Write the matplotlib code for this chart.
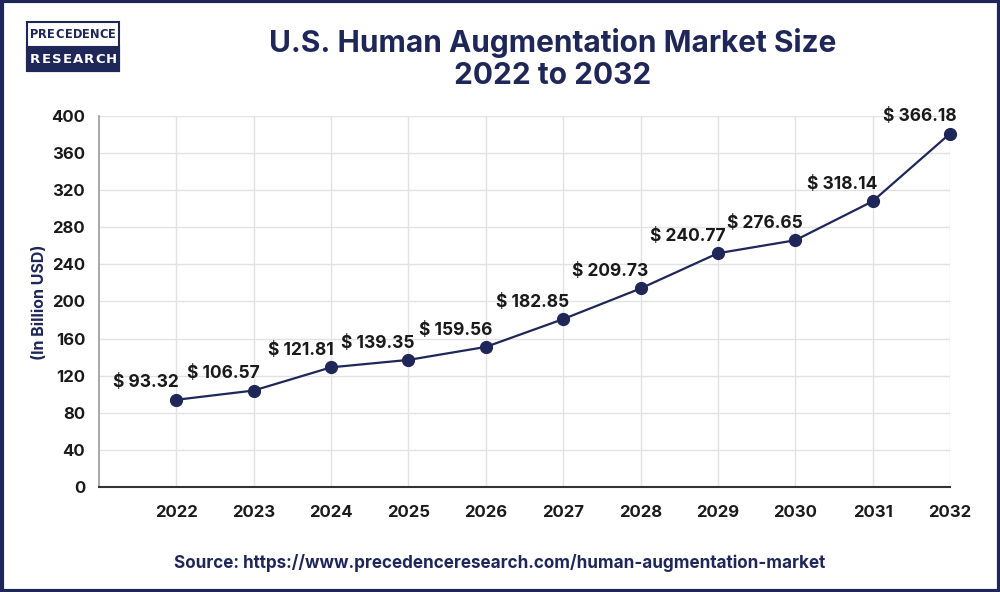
import matplotlib
matplotlib.use("Agg")
import matplotlib.pyplot as plt
from matplotlib.patches import Rectangle

years = [2022, 2023, 2024, 2025, 2026, 2027, 2028, 2029, 2030, 2031, 2032]
# point heights as drawn in the reference
point_values = [94, 104, 129, 137, 151, 181, 214, 252, 266, 308, 381]
label_texts = ["$ 93.32", "$ 106.57", "$ 121.81", "$ 139.35", "$ 159.56", "$ 182.85",
               "$ 209.73", "$ 240.77", "$ 276.65", "$ 318.14", "$ 366.18"]
y_ticks = [0, 40, 80, 120, 160, 200, 240, 280, 320, 360, 400]

NAVY = "#1f2758"
FONT = ["Inter", "DejaVu Sans"]
COND = ["DejaVu Sans Condensed", "DejaVu Sans"]

fig = plt.figure(figsize=(10, 5.92), dpi=100)
fig.patch.set_facecolor("white")

# outer border
fig.add_artist(Rectangle((0.0015, 0.0025), 0.997, 0.995, transform=fig.transFigure,
                         fill=False, edgecolor=NAVY, linewidth=3))

ax = fig.add_axes([0.099, 0.1774, 0.851, 0.6267])
ax.plot(years, point_values, color=NAVY, linewidth=1.6, marker="o", markersize=8.5,
        markerfacecolor=NAVY, markeredgecolor=NAVY, zorder=3, clip_on=False)
for x, y, t in zip(years, point_values, label_texts):
    ax.annotate(t, (x, y), xytext=(-22, 6), textcoords="offset points", ha="center",
                va="bottom", fontsize=12.5, fontweight="bold", color="#1a1a1a",
                family=FONT)

ax.set_xlim(2021, 2032)
ax.set_ylim(0, 400)
ax.set_yticks(y_ticks)
ax.set_xticks(years)
ax.grid(True, color="#e2e2e2", linewidth=1.0)
ax.set_axisbelow(True)
for s in ["top", "right"]:
    ax.spines[s].set_visible(False)
ax.spines["left"].set_color("#9a9a9a")
ax.spines["left"].set_linewidth(1.2)
ax.spines["bottom"].set_color("#333333")
ax.spines["bottom"].set_linewidth(1.5)
ax.tick_params(axis="both", length=0, labelsize=12, colors="#1a1a1a")
ax.tick_params(axis="x", pad=13)
ax.tick_params(axis="y", pad=10)
for lab in ax.get_xticklabels() + ax.get_yticklabels():
    lab.set_fontweight("bold")
    lab.set_family(FONT)

fig.text(0.040, 0.49, "(In Billion USD)", rotation=90, ha="center", va="center",
         fontsize=11.5, fontweight="bold", color=NAVY, family=FONT)

fig.text(0.553, 0.928, "U.S. Human Augmentation Market Size", ha="center", va="center",
         fontsize=21.5, fontweight="bold", color=NAVY, family=FONT)
fig.text(0.553, 0.872, "2022 to 2032", ha="center", va="center",
         fontsize=21.5, fontweight="bold", color=NAVY, family=FONT)

fig.text(0.5, 0.049, "Source: https://www.precedenceresearch.com/human-augmentation-market",
         ha="center", va="center", fontsize=12.3, fontweight="bold", color=NAVY, family=FONT)

# logo
fig.add_artist(Rectangle((0.027, 0.880), 0.092, 0.083, transform=fig.transFigure,
                         facecolor="white", edgecolor=NAVY, linewidth=1.5))
fig.add_artist(Rectangle((0.027, 0.880), 0.092, 0.041, transform=fig.transFigure,
                         facecolor=NAVY, edgecolor=NAVY, linewidth=1.5))


def spaced(word, y, color, x0, x1, size):
    n = len(word)
    step = (x1 - x0) / (n - 1)
    for i, ch in enumerate(word):
        fig.text(x0 + i * step, y, ch, ha="center", va="center", fontsize=size,
                 fontweight="bold", color=color, family=COND)


spaced("PRECEDENCE", 0.942, NAVY, 0.034, 0.112, 8.3)
spaced("RESEARCH", 0.900, "white", 0.035, 0.111, 9.5)

fig.savefig("out.png", dpi=100)
